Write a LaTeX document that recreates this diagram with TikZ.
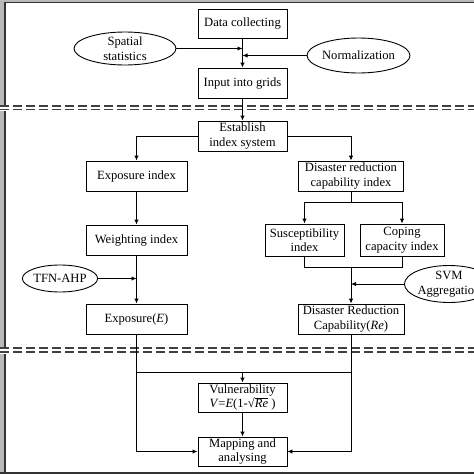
\documentclass[tikz,border=0pt]{standalone}
\usepackage{fontspec}
\setmainfont{Liberation Serif}
\usetikzlibrary{arrows.meta,shapes.geometric}
\begin{document}
\begin{tikzpicture}[x=1pt,y=-1pt,
  every node/.style={font=\fontsize{12.6}{14.4}\selectfont, inner sep=0pt, align=center},
  box/.style={draw, line width=0.9pt, rectangle},
  ell/.style={draw, line width=0.9pt, ellipse},
  conn/.style={line width=0.9pt},
  arr/.style={line width=0.9pt, -{Latex[length=5pt,width=4.5pt]}},
  sep/.style={line width=1.1pt, dash pattern=on 9pt off 4pt, black!75}]
\useasboundingbox (0,0) rectangle (474,474);
% frame
\fill[gray!55] (0,0) rectangle (474,2);
\draw[line width=1.2pt, black!80] (0,2.8) -- (474,2.8);
\fill[gray!55] (0,0) rectangle (3.5,474);
\draw[line width=1.6pt, black!80] (5,2.8) -- (5,474);
\fill[black!80] (0,471.5) rectangle (474,474);
% separators
\fill[white] (0,104.5) rectangle (8,111);
\fill[white] (0,346.5) rectangle (8,353.5);
\draw[sep] (0,106) -- (474,106);
\draw[sep] (0,109.5) -- (474,109.5);
\draw[sep] (0,348) -- (474,348);
\draw[sep] (0,352) -- (474,352);
% nodes
\node[box, minimum width=89pt, minimum height=29pt] (dc) at (242.5,23.5) {Data collecting};
\node[box, minimum width=89pt, minimum height=30pt] (ig) at (242.5,83) {Input into grids};
\node[ell, minimum width=102pt, minimum height=33pt] (ss) at (125,48.5) {Spatial\\statistics};
\node[ell, minimum width=93pt, minimum height=35pt] (no) at (358.5,55.5) {Normalization};
\node[box, minimum width=89pt, minimum height=30pt] (eis) at (242.5,136) {Establish\\index system};
\node[box, minimum width=101pt, minimum height=30pt] (ei) at (136.5,176) {Exposure index};
\node[box, minimum width=105pt, minimum height=30pt] (drci) at (351,176) {Disaster reduction\\capability index};
\node[box, minimum width=101pt, minimum height=30pt] (wi) at (136.5,240) {Weighting index};
\node[box, minimum width=79pt, minimum height=32pt] (si) at (304.5,240) {Susceptibility\\index};
\node[box, minimum width=84pt, minimum height=32pt] (cci) at (402,240) {Coping\\capacity index};
\node[ell, minimum width=74pt, minimum height=27pt] (tfn) at (60,278.5) {TFN-AHP};
\node[ell, minimum width=76pt, minimum height=37pt] (svm) at (449,284) {SVM\\Aggregation};
\node[box, minimum width=101pt, minimum height=30pt] (ex) at (136.5,319) {Exposure(\textit{E})};
\node[box, minimum width=106pt, minimum height=30pt] (drc) at (351,319) {Disaster Reduction\\Capability(\textit{Re})};
\node[box, minimum width=89pt, minimum height=29pt] (vul) at (242.5,397.5) {Vulnerability\\\textit{V}=\textit{E}(1-√$\overline{\hbox{\itshape Re}}$\ )};
\node[box, minimum width=89pt, minimum height=29pt] (map) at (242.5,451.5) {Mapping and\\analysing};
% coordinates
\coordinate (j1) at (351,202);
\coordinate (j2) at (351,267);
\coordinate (j3) at (242.5,372);
% connectors
\draw[arr] (dc.south) -- (ig.north);
\draw[arr] (ss.east) -- (ss.east -| dc.south);
\draw[arr] (no.west) -- (no.west -| dc.south);
\draw[arr] (ig.south) -- (eis.north);
\draw[arr] (eis.west) -| (ei.north);
\draw[arr] (eis.east) -| (drci.north);
\draw[arr] (ei.south) -- (wi.north);
\draw[arr] (wi.south) -- (ex.north);
\draw[arr] (tfn.east) -- (tfn.east -| wi.south);
\draw[conn] (drci.south) -- (j1);
\draw[conn] (si.north |- j1) -- (cci.north |- j1);
\draw[arr] (si.north |- j1) -- (si.north);
\draw[arr] (cci.north |- j1) -- (cci.north);
\draw[conn] (si.south) -- (si.south |- j2) -- (cci.south |- j2) -- (cci.south);
\draw[arr] (j2) -- (drc.north);
\draw[arr] (svm.west) -- (svm.west -| drc.north);
\draw[conn] (ex.south |- j3) -- (drc.south |- j3);
\draw[arr] (j3) -- (vul.north);
\draw[arr] (vul.south) -- (map.north);
\draw[arr] (ex.south) |- (map.west);
\draw[arr] (drc.south) |- (map.east);
\end{tikzpicture}
\end{document}
